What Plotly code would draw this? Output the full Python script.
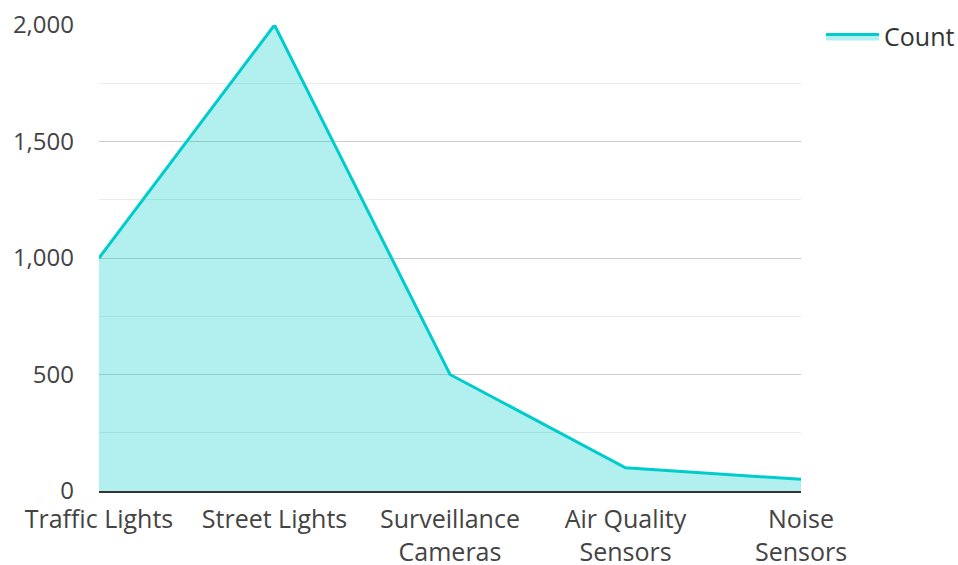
import plotly.graph_objects as go

categories = ["Traffic Lights", "Street Lights", "Surveillance<br>Cameras", "Air Quality<br>Sensors", "Noise<br>Sensors"]
counts = [1000, 2000, 500, 100, 50]
series_name = "Count"

fig = go.Figure()
fig.add_trace(go.Scatter(
    x=categories, y=counts, name=series_name, mode="lines",
    line=dict(color="#00CCCC", width=3),
    fill="tozeroy", fillcolor="rgba(0,204,204,0.3)",
    showlegend=True,
))

fig.update_layout(
    width=958, height=565,
    margin=dict(l=99, r=157, t=25, b=74, autoexpand=False),
    paper_bgcolor="white", plot_bgcolor="white",
    font=dict(family="Open Sans, Noto Sans, sans-serif", size=24, color="#444"),
    legend=dict(x=1.0285, y=1.024, xanchor="left", yanchor="top", itemwidth=53,
                font=dict(size=25, color="#333"), bgcolor="rgba(0,0,0,0)"),
    xaxis=dict(range=[0, 4], showgrid=False, showline=True, linecolor="#333", linewidth=2,
               ticks="", tickfont=dict(size=25, color="#444"), zeroline=False, automargin=False,
               ticklabelstandoff=5),
    yaxis=dict(range=[0, 2000], dtick=500, tickformat=",", showgrid=True, gridcolor="#cccccc",
               gridwidth=1, zeroline=False, showline=False, ticks="", ticklabelstandoff=24,
               automargin=False,
               minor=dict(dtick=250, showgrid=True, gridcolor="#ebebeb", gridwidth=1),
               tickfont=dict(size=24, color="#444")),
)

fig.write_html("out.html", config={"displayModeBar": False},
               post_script="document.body.style.margin='0';")
